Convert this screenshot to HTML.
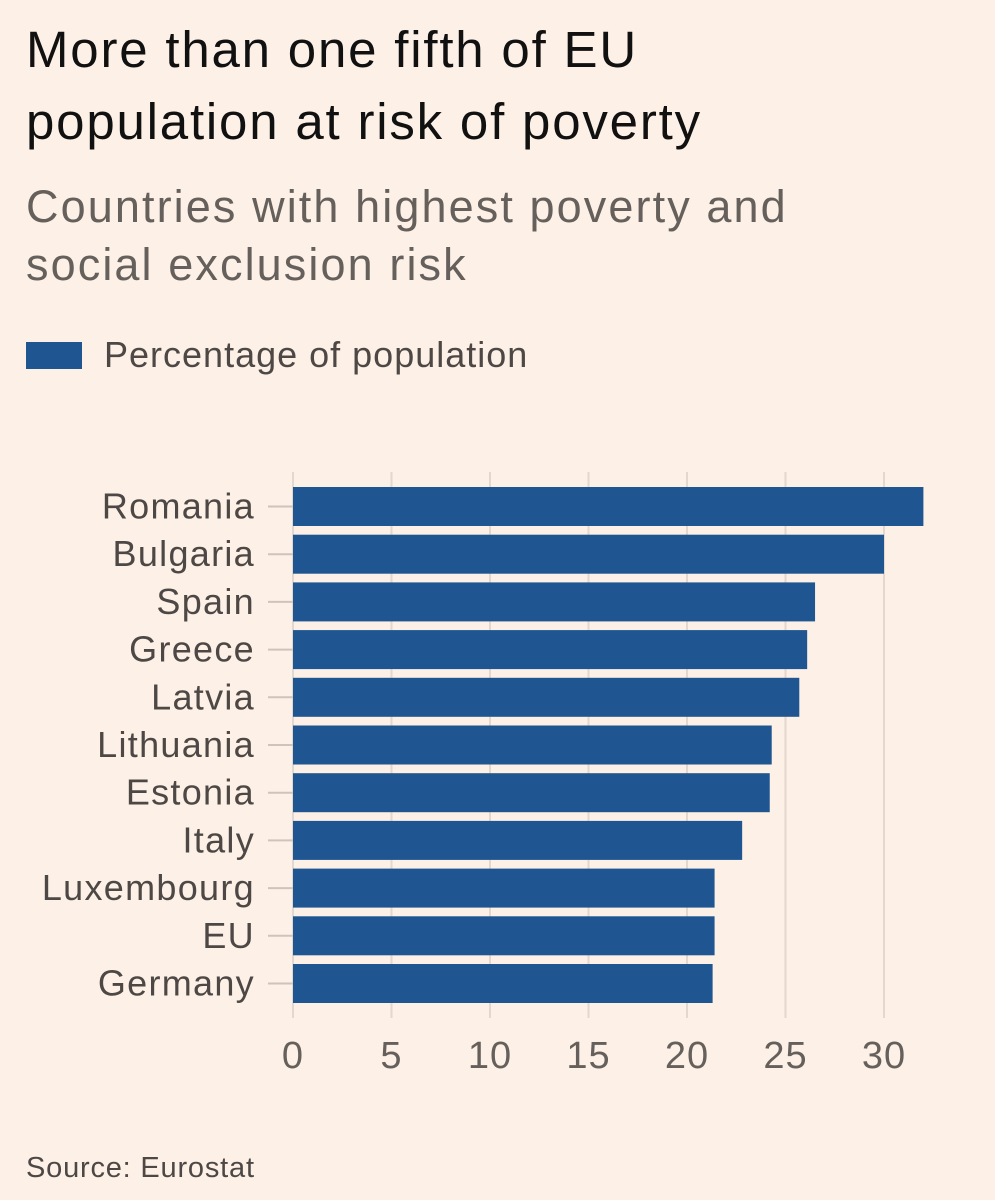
<!DOCTYPE html>
<html><head><meta charset="utf-8"><style>
body{margin:0;background:#fdf0e6;font-family:"Liberation Sans",sans-serif;}
#wrap{position:relative;width:995px;height:1200px;overflow:hidden;background:#fdf0e6}
.t{position:absolute;left:26px;white-space:nowrap}
</style></head><body>
<div id="wrap">
<div class="t" style="top:14px;font-size:51px;line-height:72px;letter-spacing:1.8px;color:#111">More than one fifth of EU<br>population at risk of poverty</div>
<div class="t" style="top:178px;font-size:45px;line-height:58px;letter-spacing:2.1px;color:#66605c">Countries with highest poverty and<br>social exclusion risk</div>
<div style="position:absolute;left:26px;top:342px;width:56px;height:27px;background:#1f5591"></div>
<div class="t" style="left:104px;top:334px;font-size:36px;letter-spacing:1px;color:#4d4845">Percentage of population</div>
<svg id="chart" width="995" height="1200" style="position:absolute;left:0;top:0"></svg>
<div class="t" style="top:1152px;font-size:29px;letter-spacing:0.8px;color:#4d4845">Source: Eurostat</div>
</div>
<script>
const categories=["Romania","Bulgaria","Spain","Greece","Latvia","Lithuania","Estonia","Italy","Luxembourg","EU","Germany"];
const values=[32.0,30.0,26.5,26.1,25.7,24.3,24.2,22.8,21.4,21.4,21.3];
const ticks=[0,5,10,15,20,25,30];
const svg=document.getElementById('chart');
const NS='http://www.w3.org/2000/svg';
const x0=293,ppu=19.7,y0=487,pitch=47.7,bh=39;
const xs=v=>x0+v*ppu;
const ys=i=>y0+i*pitch;
function mk(t,a){const e=document.createElementNS(NS,t);for(const k in a)e.setAttribute(k,a[k]);svg.appendChild(e);return e;}
ticks.forEach(t=>{
  const g=mk('line',{x1:xs(t),x2:xs(t),y1:472,y2:1018,stroke:'#e4d8ce','stroke-width':2});
  
  
  const l=mk('text',{x:xs(t),y:1068,'text-anchor':'middle','font-size':38,'letter-spacing':1,fill:'#66605c','font-family':'Liberation Sans, sans-serif'});
  l.textContent=t;
  
  
});
categories.forEach((c,i)=>{
  const cy=ys(i)+bh/2;
  const tk=mk('line',{x1:268,x2:293,y1:cy,y2:cy,stroke:'#cfc4bb','stroke-width':2});
  
  
  const r=mk('rect',{x:x0,y:ys(i),width:values[i]*ppu,height:bh,fill:'#1f5591'});
  
  
  const l=mk('text',{x:255,y:cy+12,'text-anchor':'end','font-size':36,'letter-spacing':1.3,fill:'#4d4845','font-family':'Liberation Sans, sans-serif'});
  l.textContent=c;
  
  
});
</script>
</body></html>
